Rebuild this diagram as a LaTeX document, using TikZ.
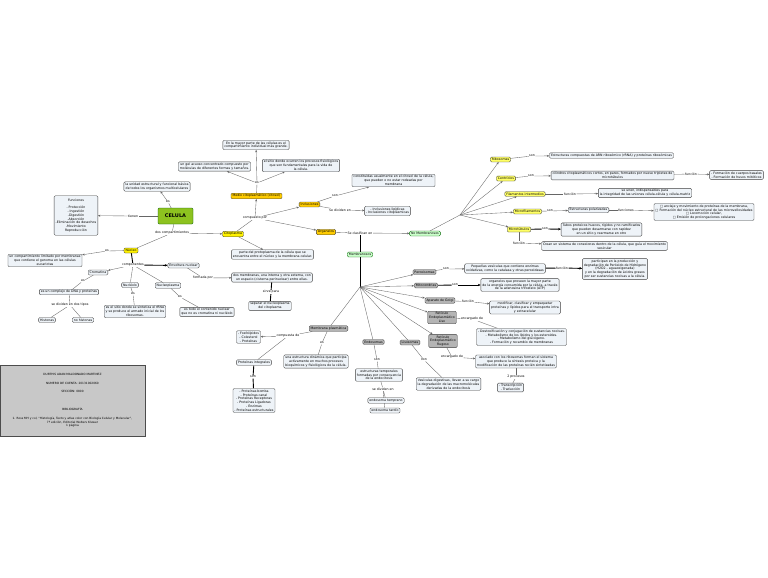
\documentclass[tikz,border=0pt]{standalone}
\usepackage{fontspec}
\setmainfont{DejaVu Sans}
\usetikzlibrary{arrows.meta,backgrounds}
\definecolor{descfill}{HTML}{EEF3F8}
\definecolor{orgfill}{HTML}{FFCC00}
\definecolor{lylfill}{HTML}{FFFF66}
\definecolor{grnfill}{HTML}{CCFFCC}
\definecolor{gryfill}{HTML}{B4B4B4}
\definecolor{celfill}{HTML}{8DC21F}
\definecolor{infofill}{HTML}{C8C8C8}
\definecolor{linecol}{HTML}{666666}
\begin{document}
\begin{tikzpicture}[x=1pt,y=-1pt,
  every node/.style={font=\fontsize{3.2}{3.8}\selectfont, align=center, inner sep=0.5pt},
  base/.style={draw=black!75, rounded corners=1.2pt, line width=0.35pt, inner xsep=1.5pt, inner ysep=1.2pt},
  desc/.style={base, fill=descfill},
  ylw/.style={base, fill=yellow},
  org/.style={base, fill=orgfill},
  lyl/.style={base, fill=lylfill},
  grn/.style={base, fill=grnfill, draw=green!40!black},
  gry/.style={base, fill=gryfill},
  cel/.style={base, fill=celfill, draw=green!35!black, font=\fontsize{5}{6}\selectfont\bfseries, minimum width=35pt, minimum height=16pt},
  lbl/.style={inner sep=0.4pt, fill=white},
  con/.style={draw=linecol, line width=0.35pt},
  arr/.style={con, -{Stealth[length=2.4pt,width=2pt]}},
  thk/.style={draw=black, line width=0.9pt},
  thkarr/.style={thk, -{Stealth[length=2.8pt,width=2.4pt]}},
]
\useasboundingbox (0,0) rectangle (768,578);

% ---------- concepts ----------
\node[cel] (celula) at (175.5,216) {CELULA};
\node[desc] (unidad) at (157,186.5) {la unidad estructural y funcional básica\\de todos los organismos multicelulares};
\node[desc, inner ysep=3pt] (funciones) at (76,215.5) {Funciones\\[3.8pt]- Protección\\- Ingestión\\-Digestión\\-Absorción\\-Eliminación de desechos\\-Movimiento\\Reproducción};
\node[ylw] (nucleo) at (131,250.5) {Núcleo};
\node[desc] (compart) at (45,260.5) {un compartimiento limitado por membranas\\que contiene el genoma en las células\\eucariotas};
\node[desc] (cromatina) at (98,272.5) {Cromatina};
\node[desc] (complejo) at (69,292) {es un complejo de DNA y proteínas};
\node[desc] (histonas) at (47,320) {Histonas};
\node[desc] (nohist) at (83,320) {no histonas};
\node[desc] (nucleolo) at (130,285) {Nucléolo};
\node[desc] (sitiorna) at (135,311.5) {es el sitio donde se sintetiza el rRNA\\y se produce el armado inicial de los\\ribosomas.};
\node[desc] (nucleoplasma) at (168,285.5) {Nucleoplasma};
\node[desc] (contenido) at (207,312) {es todo el contenido nuclear\\que no es cromatina ni nucléolo};
\node[desc] (envoltura) at (183.5,265.5) {Envoltura nuclear};
\node[desc] (dosmem) at (272,277.5) {dos membranas, una interna y otra externa, con\\un espacio (cisterna perinuclear) entre ellas.};
\node[desc] (separar) at (270,306) {separar el nucleoplasma\\del citoplasma};
\node[ylw] (citoplasma) at (233,234) {Citoplasma};
\node[desc] (protoplasma) at (272.5,254.5) {parte del protoplasma de la célula que se\\encuentra entre el núcleo y la membrana celular.};
\node[org] (medio) at (256.5,196) {Medio citoplasmático (citosol)};
\node[desc] (mayor) at (256,145) {En la mayor parte de las células es el\\compartimiento individual más grande.};
\node[desc] (gel) at (214.5,166.5) {un gel acuoso concentrado compuesto por\\moléculas de diferentes formas y tamaños.};
\node[desc] (sitio) at (301,165.5) {el sitio donde ocurren los procesos fisiológicos\\que son fundamentales para la vida de\\la célula.};
\node[org] (inclusiones) at (309.5,204.5) {Inclusiones};
\node[desc] (incldesc) at (393.5,180.5) {constituidas usualmente en el citosol de la célula,\\que pueden o no estar rodeadas por\\membrana};
\node[desc] (incltipos) at (387.5,211) {- Inclusiones lipídicas\\- Inclusiones citoplásmicas};
\node[org] (organelos) at (326,232) {Organelos};
\node[grn] (nomem) at (425,233.5) {No Membranosos};
\node[grn] (mem) at (360,254.5) {Membranosos};
\node[lyl] (ribosomas) at (500.5,159.5) {Ribosomas};
\node[lyl] (centriolos) at (506,178.5) {Centríolos};
\node[lyl] (filamentos) at (525,194) {Filamentos intermedios};
\node[lyl] (microfil) at (527.5,211.5) {Microfilamentos};
\node[lyl] (microtub) at (519,229.5) {Microtúbulos};
\node[desc] (ribodesc) at (611.5,155.5) {Estructuras compuestas de ARN ribosómico (rRNA) y proteínas ribosómicas};
\node[desc] (centdesc) at (612.5,175.5) {cilindros citoplasmáticos cortos, en pares, formados por nueve tripletes de\\microtúbulos};
\node[desc] (centfunc) at (736.5,175) {- Formación de cuerpos basales\\- Formación de husos mitóticos};
\node[desc] (fildesc) at (645,193) {se unen, indispensables para\\la integridad de las uniones célula-célula y célula-matriz};
\node[desc] (polar) at (588.5,210) {Estructuras polarizadas};
\node[desc] (polarfunc) at (704,212) {□ anclaje y movimiento de proteínas de la membrana,\\□ Formación del núcleo estructural de las microvellosidades\\□ Locomoción celular,\\□ Emisión de prolongaciones celulares};
\node[desc] (tubdesc) at (601.5,229.5) {Tubos proteicos huecos, rígidos y no ramificados\\que pueden desarmarse con rapidez\\en un sitio y rearmarse en otro};
\node[desc] (tubfunc) at (604.5,246) {Crean un sistema de conexiones dentro de la célula, que guía el movimiento\\vesicular};
\node[gry] (peroxisomas) at (424.5,272) {Peroxisomas};
\node[desc] (peroxdesc) at (505,268.5) {Pequeñas vesículas que contiene enzimas\\oxidativas, como la catalasa y otras peroxidasas};
\node[desc] (peroxfunc) at (615,269) {participan en la producción y\\degradación de Peróxido de Hidrógeno\\(H2O2 - aguaoxigenada)\\y en la degradación de ácidos grasos\\por ser sustancias nocivas a la célula.};
\node[gry] (mitocondrias) at (426,285.5) {Mitocondrias};
\node[desc] (mitodesc) at (520,285) {organelos que proveen la mayor parte\\de la energía consumida por la célula, a través\\de la adenosina trifosfato (ATP)};
\node[gry] (golgi) at (440,300.5) {Aparato de Golgi};
\node[desc] (golgidesc) at (525,307.5) {modificar, clasificar y empaquetar\\proteínas y lípidos para el transporte intra\\y extracelular};
\node[gry] (rel) at (442,317.5) {Retículo\\Endoplasmático\\Liso};
\node[desc] (reldesc) at (521.5,337) {- Destoxificación y conjugación de sustancias nocivas.\\- Metabolismo de los lípidos y los esteroides.\\- Metabolismo del glucógeno.\\- Formación y recambio de membranas};
\node[gry] (rer) at (443,341) {Retículo\\Endoplasmático\\Rugoso};
\node[desc] (rerdesc) at (516,361.5) {asociado con los ribosomas forman el sistema\\que produce la síntesis proteica y la\\modificación de las proteínas recién sintetizadas};
\node[desc] (procesos) at (510.5,387.5) {- Transcripción\\- Traducción};
\node[gry] (lisosomas) at (410,342.5) {Lisosomas};
\node[desc] (lisodesc) at (448.5,384) {Vesículas digestivas, llevan a su cargo\\la degradación de las macromoléculas\\derivadas de la endocitosis};
\node[gry] (endosomas) at (373.5,342) {Endosomas};
\node[desc] (endodesc) at (379,375) {estructuras temporales\\formadas por consecuencia\\de la endocitosis};
\node[desc] (temprano) at (386,400.5) {endosoma temprano};
\node[desc] (tardio) at (385,410.5) {endosoma tardío};
\node[gry] (membrana) at (328.5,328.5) {Membrana plasmática};
\node[desc] (mpcomp) at (248.5,337) {- Fosfolípidos\\- Colesterol\\- Proteínas};
\node[desc] (mpdesc) at (316,361.5) {una estructura dinámica que participa\\activamente en muchos procesos\\bioquímicos y fisiológicos de la célula.};
\node[desc] (integrales) at (254,362.5) {Proteínas integrales};
\node[desc] (prottipos) at (254,400.5) {- Proteínas bomba\\- Proteínas canal\\- Proteínas Receptoras\\- Proteínas Ligadoras\\- Enzimas\\- Proteínas estructurales};

\node[draw=black!70, fill=infofill, line width=0.4pt, minimum width=145pt, minimum height=71pt,
      font=\fontsize{2.9}{3.6}\selectfont] (info) at (72.5,400.5)
  {DURTHIS ADAN MALDONADO MARTINEZ\\[4.9pt]
   NUMERO DE CUENTA: 20131002060\\[4.9pt]
   SECCIÓN: 0800\\[14.4pt]
   BIBLIOGRAFÍA\\[5pt]
   1. Ross MH y col, “Histología, Texto y atlas color con Biología Celular y Molecular”,\\
   7ª edición, Editorial Wolters Kluwer\\
   1 página};

% ---------- linking phrases ----------
\node[lbl] (les1) at (168,202) {es};
\node[lbl] (ltienen) at (133,216) {tienen};
\node[lbl] (ldos) at (172,233) {dos compartimientos};
\node[lbl] (les2) at (107,251) {es};
\node[lbl] (lcomp) at (133,265) {componentes};
\node[lbl] (les3) at (83,281) {es};
\node[lbl] (ldiv) at (70,305) {se dividen en dos tipos};
\node[lbl] (les4) at (133,294) {es};
\node[lbl] (les5) at (180,297) {es};
\node[lbl] (lformada) at (203,278) {formada por};
\node[lbl] (lsirve) at (271,292) {sirve para};
\node[lbl] (lcompuesto) at (255,218) {compuesto por};
\node[lbl] (les6) at (257,183) {es};
\node[lbl] (lson1) at (335,196) {son};
\node[lbl] (ldivi) at (340,210) {Se dividen en};
\node[lbl] (lclas) at (360,233) {Se clasifican en};
\coordinate (hubnm) at (460,215);
\node[lbl] (lsonribo) at (532,156) {son};
\node[lbl] (lsoncent) at (531,176) {son};
\node[lbl] (lfunccent) at (691,174) {función};
\node[lbl] (lfuncfil) at (570,194) {función};
\node[lbl] (lsonmf) at (550,211) {son};
\node[lbl] (lfuncmf) at (626,210) {funciones};
\node[lbl] (lsonmt) at (545,229) {son};
\node[lbl] (lfuncmt) at (519,243) {función};
\coordinate (hubm) at (360,287);
\node[lbl] (lsonperox) at (446,269) {son};
\node[lbl] (lfuncperox) at (562,268) {función};
\node[lbl] (lsonmito) at (455,285) {son};
\node[lbl] (lfuncgolgi) at (468,301.5) {función};
\node[lbl] (lencrel) at (472,319) {encargado de};
\node[lbl] (lencrer) at (452,357) {encargado de};
\node[lbl] (lproc) at (516,377) {2 procesos};
\node[lbl] (lsonliso) at (424,360) {son};
\node[lbl] (lsonendo) at (377,360) {son};
\node[lbl] (ldivide) at (383,389) {se dividen en};
\node[lbl] (lcompmp) at (288,336) {compuesta de};
\node[lbl] (lesmp) at (322,343) {es};
\node[lbl] (lsonprot) at (253,377) {son};

% ---------- connectors ----------
\begin{scope}[on background layer]
\fill[white] (0,0) rectangle (768,578);
\draw[con] (celula) -- (les1); \draw[arr] (les1) -- (unidad);
\draw[con] (celula) -- (ltienen); \draw[arr] (ltienen) -- (funciones);
\draw[con] (celula) -- (ldos); \draw[con] (ldos) -- (nucleo); \draw[arr] (ldos) -- (citoplasma);
\draw[con] (nucleo) -- (les2); \draw[arr] (les2) -- (compart);
\draw[thk] (nucleo) -- (lcomp);
\draw[arr] (lcomp) -- (cromatina);
\draw[con] (lcomp) -- (nucleolo);
\draw[con] (lcomp) -- (nucleoplasma);
\draw[thkarr] (lcomp) -- (envoltura);
\draw[con] (cromatina) -- (les3); \draw[con] (les3) -- (complejo);
\draw[con] (complejo) -- (ldiv); \draw[con] (ldiv) -- (histonas); \draw[con] (ldiv) -- (nohist);
\draw[con] (nucleolo) -- (les4); \draw[con] (les4) -- (sitiorna);
\draw[con] (nucleoplasma) -- (les5); \draw[con] (les5) -- (contenido);
\draw[con] (envoltura) -- (lformada); \draw[arr] (lformada) -- (dosmem);
\draw[thk] (dosmem) -- (lsirve); \draw[thk] (lsirve) -- (separar);
\draw[con] (citoplasma) -- (lcompuesto);
\draw[arr] (lcompuesto) -- (medio);
\draw[arr] (lcompuesto) -- (inclusiones);
\draw[arr] (lcompuesto) -- (organelos);
\draw[arr] (citoplasma) -- (protoplasma);
\draw[con] (medio) -- (les6);
\draw[arr] (les6) -- (mayor); \draw[arr] (les6) -- (gel); \draw[arr] (les6) -- (sitio);
\draw[con] (inclusiones) -- (lson1); \draw[arr] (lson1) -- (incldesc);
\draw[con] (inclusiones) -- (ldivi); \draw[arr] (ldivi) -- (incltipos);
\draw[con] (organelos) -- (lclas); \draw[arr] (lclas) -- (nomem);
\draw[thk] (lclas) -- (mem);
\draw[con] (nomem) -- (hubnm);
\draw[arr] (hubnm) -- (ribosomas);
\draw[arr] (hubnm) -- (centriolos);
\draw[arr] (hubnm) -- (filamentos);
\draw[arr] (hubnm) -- (microfil);
\draw[arr] (hubnm) -- (microtub);
\draw[con] (ribosomas) -- (lsonribo); \draw[arr] (lsonribo) -- (ribodesc);
\draw[con] (centriolos) -- (lsoncent); \draw[arr] (lsoncent) -- (centdesc);
\draw[con] (centdesc) -- (lfunccent); \draw[arr] (lfunccent) -- (centfunc);
\draw[con] (filamentos) -- (lfuncfil); \draw[arr] (lfuncfil) -- (fildesc);
\draw[con] (microfil) -- (lsonmf); \draw[arr] (lsonmf) -- (polar);
\draw[con] (polar) -- (lfuncmf); \draw[arr] (lfuncmf) -- (polarfunc);
\draw[thk] (microtub) -- (lsonmt); \draw[thkarr] (lsonmt) -- (tubdesc);
\draw[con] (microtub) -- (lfuncmt); \draw[arr] (lfuncmt) -- (tubfunc);
\draw[thk] (mem) -- (hubm);
\draw[arr] (hubm) -- (peroxisomas);
\draw[arr] (hubm) -- (mitocondrias);
\draw[arr] (hubm) -- (golgi);
\draw[arr] (hubm) -- (rel);
\draw[arr] (hubm) -- (rer);
\draw[con] (hubm) -- (lisosomas);
\draw[con] (hubm) -- (endosomas);
\draw[con] (hubm) -- (membrana);
\draw[con] (peroxisomas) -- (lsonperox); \draw[arr] (lsonperox) -- (peroxdesc);
\draw[thk] (peroxdesc) -- (lfuncperox); \draw[thkarr] (lfuncperox) -- (peroxfunc);
\draw[thk] (mitocondrias) -- (lsonmito); \draw[thkarr] (lsonmito) -- (mitodesc);
\draw[con] (golgi) -- (lfuncgolgi); \draw[arr] (lfuncgolgi) -- (golgidesc);
\draw[con] (rel) -- (lencrel); \draw[con] (lencrel) -- (reldesc);
\draw[con] (rer) -- (lencrer); \draw[arr] (lencrer) -- (rerdesc);
\draw[con] (rerdesc) -- (lproc); \draw[con] (lproc) -- (procesos);
\draw[con] (lisosomas) -- (lsonliso); \draw[con] (lsonliso) -- (lisodesc);
\draw[con] (endosomas) -- (lsonendo); \draw[con] (lsonendo) -- (endodesc);
\draw[con] (endodesc) -- (ldivide); \draw[con] (ldivide) -- (temprano); \draw[con] (ldivide) -- (tardio);
\draw[con] (membrana) -- (lcompmp); \draw[arr] (lcompmp) -- (mpcomp); \draw[con] (lcompmp) -- (integrales);
\draw[con] (membrana) -- (lesmp); \draw[con] (lesmp) -- (mpdesc);
\draw[thk] (integrales) -- (lsonprot); \draw[thk] (lsonprot) -- (prottipos);
\end{scope}
\end{tikzpicture}
\end{document}
